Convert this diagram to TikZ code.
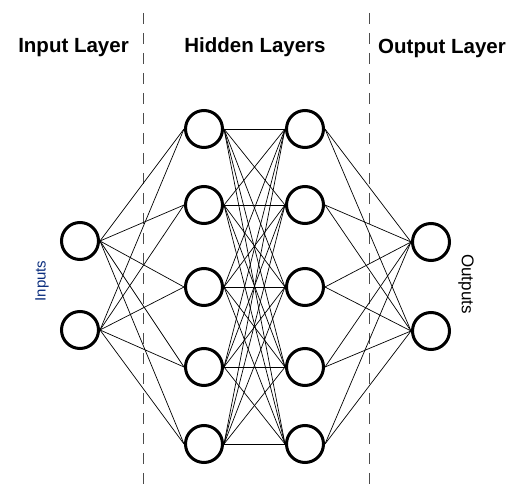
\documentclass[tikz,border=0pt]{standalone}
\usepackage{fontspec}
\setmainfont{Liberation Sans}
\usetikzlibrary{positioning}
\definecolor{inblue}{RGB}{10,45,125}

\begin{document}
\begin{tikzpicture}[x=1pt, y=-1pt,
    neuron/.style={circle, draw=black, line width=3pt, fill=white, minimum size=37pt, inner sep=0pt},
    title/.style={font=\fontsize{20.5}{23}\selectfont\bfseries, anchor=base},
    side/.style={font=\fontsize{15}{17}\selectfont},
    divider/.style={draw=black!70, line width=0.8pt, dash pattern=on 11pt off 9pt},
    conn/.style={line width=0.7pt}
]
\useasboundingbox (0,0) rectangle (528,502);

% Layer titles
\node[title] (tin) at (73.5,53) {Input Layer};
\node[title] (thid) at (255,53) {Hidden Layers};
\node[title] (tout) at (442,53.5) {Output Layer};

% Dividers
\draw[divider] (143,13) -- (143,488);
\draw[divider] (369,13) -- (369,488);

% Input layer
\node[neuron] (in1) at (80,241) {};
\node[neuron] (in2) at (80,330) {};

% Hidden layers
\foreach \i/\y in {1/129,2/205,3/287,4/367,5/444} {
    \node[neuron] (ha\i) at (204,\y) {};
    \node[neuron] (hb\i) at (305,\y) {};
}

% Output layer
\node[neuron] (out1) at (431,242) {};
\node[neuron] (out2) at (431,331) {};

% Side labels
\node[side, rotate=90, text=inblue] (inlbl) at (42,281) {Inputs};
\node[side, rotate=-90, font=\fontsize{17}{19}\selectfont] (outlbl) at (466,284) {Outputs};

% Connections
\foreach \i in {1,...,5} {
    \foreach \k in {1,2} {
        \draw[conn] (in\k.east) -- (ha\i.west);
        \draw[conn] (hb\i.east) -- (out\k.west);
    }
    \foreach \j in {1,...,5}
        \draw[conn] (ha\i.east) -- (hb\j.west);
}

\end{tikzpicture}
\end{document}
